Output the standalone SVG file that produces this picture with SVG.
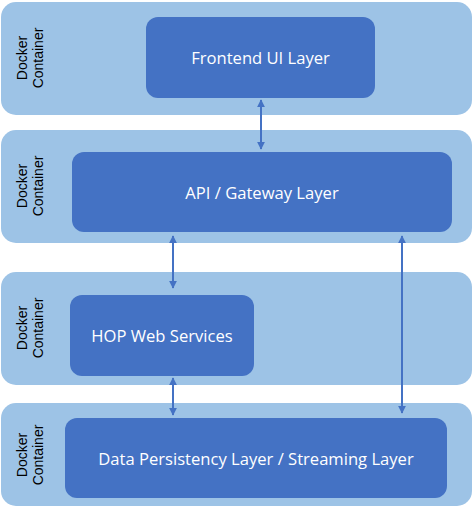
<svg xmlns="http://www.w3.org/2000/svg" width="474" height="508" viewBox="0 0 474 508">
<defs>
<style>
.cont{fill:#9DC3E6;}
.box{fill:#4472C4;}
.dk{font-family:"Liberation Sans",Arial,sans-serif;font-size:14px;fill:#000;text-anchor:middle;}
.lbl{font-family:"Open Sans","Noto Sans",sans-serif;font-size:16.6px;fill:#fff;text-anchor:middle;dominant-baseline:central;}
.conn{stroke:#4472C4;stroke-width:2;fill:none;marker-start:url(#ah);marker-end:url(#ah);}
</style>
<marker id="ah" viewBox="0 0 10 10" refX="9" refY="5" markerWidth="4" markerHeight="4" orient="auto-start-reverse" markerUnits="strokeWidth">
<path d="M0,0 L10,5 L0,10 z" fill="#4472C4"/>
</marker>
</defs>
<rect width="474" height="508" fill="#fff"/>
<g id="container1">
<rect class="cont" x="1" y="2" width="471" height="113" rx="15"/>
<text class="dk" transform="translate(27,58) rotate(-90)"><tspan x="0" y="0">Docker</tspan><tspan x="0" y="16">Container</tspan></text>
</g>
<g id="container2">
<rect class="cont" x="1" y="130" width="471" height="113" rx="15"/>
<text class="dk" transform="translate(27,186) rotate(-90)"><tspan x="0" y="0">Docker</tspan><tspan x="0" y="16">Container</tspan></text>
</g>
<g id="container3">
<rect class="cont" x="1" y="272" width="471" height="113" rx="15"/>
<text class="dk" transform="translate(27,328) rotate(-90)"><tspan x="0" y="0">Docker</tspan><tspan x="0" y="16">Container</tspan></text>
</g>
<g id="container4">
<rect class="cont" x="1" y="403" width="471" height="103" rx="15"/>
<text class="dk" transform="translate(27,455) rotate(-90)"><tspan x="0" y="0">Docker</tspan><tspan x="0" y="16">Container</tspan></text>
</g>
<g id="frontend">
<rect class="box" x="146" y="17" width="229" height="81" rx="12"/>
<text class="lbl" x="260.5" y="57.5">Frontend UI Layer</text>
</g>
<g id="api">
<rect class="box" x="72" y="152" width="380" height="80" rx="12"/>
<text class="lbl" x="262" y="192">API / Gateway Layer</text>
</g>
<g id="hop">
<rect class="box" x="70" y="295" width="184" height="81" rx="12"/>
<text class="lbl" x="162" y="335.5">HOP Web Services</text>
</g>
<g id="data">
<rect class="box" x="65" y="418" width="382" height="80" rx="12"/>
<text class="lbl" x="256" y="458">Data Persistency Layer / Streaming Layer</text>
</g>
<g id="connectors">
<line class="conn" x1="261" y1="100" x2="261" y2="149"/>
<line class="conn" x1="173" y1="236" x2="173" y2="288"/>
<line class="conn" x1="173" y1="378" x2="173" y2="415"/>
<line class="conn" x1="402" y1="236" x2="402" y2="413"/>
</g>
</svg>
